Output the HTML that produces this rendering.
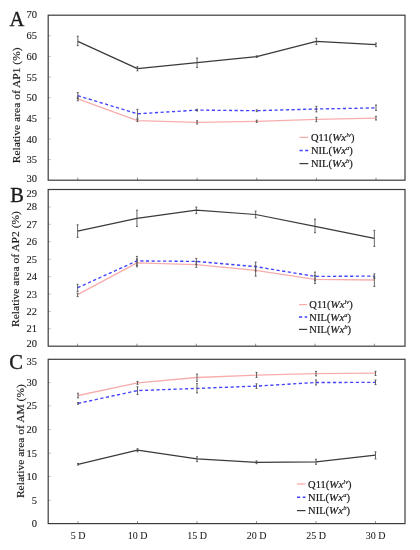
<!DOCTYPE html>
<html><head><meta charset="utf-8"><style>
html,body{margin:0;padding:0;background:#fff;}
body{width:420px;height:550px;overflow:hidden;}
svg{display:block;filter:blur(0.3px);}
text{font-family:"Liberation Serif", "Times New Roman", serif;fill:#1a1a1a;stroke:#1a1a1a;stroke-width:0.15px;}
.tl{stroke-width:0.1px;font-size:10.5px;text-anchor:end;dominant-baseline:central;}
.pl{stroke-width:0.35px;font-size:20.5px;}
.at{stroke-width:0.15px;font-size:10.5px;text-anchor:middle;}
.lg{stroke-width:0.2px;font-size:10.5px;}
.xl{stroke-width:0.05px;font-size:10px;text-anchor:middle;}
</style></head><body>
<svg width="420" height="550" viewBox="0 0 420 550">
<rect width="420" height="550" fill="#fff"/>
<line x1="48.2" y1="35.8" x2="50.7" y2="35.8" stroke="#aaaaaa" stroke-width="0.8"/>
<line x1="48.2" y1="56.4" x2="50.7" y2="56.4" stroke="#aaaaaa" stroke-width="0.8"/>
<line x1="48.2" y1="77.1" x2="50.7" y2="77.1" stroke="#aaaaaa" stroke-width="0.8"/>
<line x1="48.2" y1="97.7" x2="50.7" y2="97.7" stroke="#aaaaaa" stroke-width="0.8"/>
<line x1="48.2" y1="118.3" x2="50.7" y2="118.3" stroke="#aaaaaa" stroke-width="0.8"/>
<line x1="48.2" y1="139" x2="50.7" y2="139" stroke="#aaaaaa" stroke-width="0.8"/>
<line x1="48.2" y1="159.6" x2="50.7" y2="159.6" stroke="#aaaaaa" stroke-width="0.8"/>
<line x1="77.8" y1="180.2" x2="77.8" y2="177.7" stroke="#777" stroke-width="0.8"/>
<line x1="137.44" y1="180.2" x2="137.44" y2="177.7" stroke="#777" stroke-width="0.8"/>
<line x1="197.08" y1="180.2" x2="197.08" y2="177.7" stroke="#777" stroke-width="0.8"/>
<line x1="256.72" y1="180.2" x2="256.72" y2="177.7" stroke="#777" stroke-width="0.8"/>
<line x1="316.36" y1="180.2" x2="316.36" y2="177.7" stroke="#777" stroke-width="0.8"/>
<line x1="376" y1="180.2" x2="376" y2="177.7" stroke="#777" stroke-width="0.8"/>
<polyline points="77.8,98.9 137.44,120.6 197.08,122.3 256.72,121.3 316.36,119.3 376,118.2" fill="none" stroke="#f8adad" stroke-width="1.3" stroke-linejoin="round"/>
<line x1="77.8" y1="97" x2="77.8" y2="100.8" stroke="#4a4a4a" stroke-width="0.85"/>
<line x1="76.8" y1="97" x2="78.8" y2="97" stroke="#4a4a4a" stroke-width="0.85"/>
<line x1="76.8" y1="100.8" x2="78.8" y2="100.8" stroke="#4a4a4a" stroke-width="0.85"/>
<line x1="137.44" y1="119.6" x2="137.44" y2="121.6" stroke="#4a4a4a" stroke-width="0.85"/>
<line x1="136.44" y1="119.6" x2="138.44" y2="119.6" stroke="#4a4a4a" stroke-width="0.85"/>
<line x1="136.44" y1="121.6" x2="138.44" y2="121.6" stroke="#4a4a4a" stroke-width="0.85"/>
<line x1="197.08" y1="120.8" x2="197.08" y2="124" stroke="#4a4a4a" stroke-width="0.85"/>
<line x1="196.08" y1="120.8" x2="198.08" y2="120.8" stroke="#4a4a4a" stroke-width="0.85"/>
<line x1="196.08" y1="124" x2="198.08" y2="124" stroke="#4a4a4a" stroke-width="0.85"/>
<line x1="256.72" y1="120.2" x2="256.72" y2="122.4" stroke="#4a4a4a" stroke-width="0.85"/>
<line x1="255.72" y1="120.2" x2="257.72" y2="120.2" stroke="#4a4a4a" stroke-width="0.85"/>
<line x1="255.72" y1="122.4" x2="257.72" y2="122.4" stroke="#4a4a4a" stroke-width="0.85"/>
<line x1="316.36" y1="117.3" x2="316.36" y2="121.7" stroke="#4a4a4a" stroke-width="0.85"/>
<line x1="315.36" y1="117.3" x2="317.36" y2="117.3" stroke="#4a4a4a" stroke-width="0.85"/>
<line x1="315.36" y1="121.7" x2="317.36" y2="121.7" stroke="#4a4a4a" stroke-width="0.85"/>
<line x1="376" y1="116.3" x2="376" y2="120" stroke="#4a4a4a" stroke-width="0.85"/>
<line x1="375" y1="116.3" x2="377" y2="116.3" stroke="#4a4a4a" stroke-width="0.85"/>
<line x1="375" y1="120" x2="377" y2="120" stroke="#4a4a4a" stroke-width="0.85"/>
<polyline points="77.8,95.7 137.44,113.8 197.08,110.1 256.72,110.7 316.36,109 376,107.9" fill="none" stroke="#4242ff" stroke-width="1.35" stroke-dasharray="3.2 2.5" stroke-linejoin="round"/>
<line x1="77.8" y1="92.6" x2="77.8" y2="98.6" stroke="#4a4a4a" stroke-width="0.85"/>
<line x1="76.8" y1="92.6" x2="78.8" y2="92.6" stroke="#4a4a4a" stroke-width="0.85"/>
<line x1="76.8" y1="98.6" x2="78.8" y2="98.6" stroke="#4a4a4a" stroke-width="0.85"/>
<line x1="137.44" y1="109.3" x2="137.44" y2="118.3" stroke="#4a4a4a" stroke-width="0.85"/>
<line x1="136.44" y1="109.3" x2="138.44" y2="109.3" stroke="#4a4a4a" stroke-width="0.85"/>
<line x1="136.44" y1="118.3" x2="138.44" y2="118.3" stroke="#4a4a4a" stroke-width="0.85"/>
<line x1="197.08" y1="109.3" x2="197.08" y2="111" stroke="#4a4a4a" stroke-width="0.85"/>
<line x1="196.08" y1="109.3" x2="198.08" y2="109.3" stroke="#4a4a4a" stroke-width="0.85"/>
<line x1="196.08" y1="111" x2="198.08" y2="111" stroke="#4a4a4a" stroke-width="0.85"/>
<line x1="256.72" y1="109.8" x2="256.72" y2="111.6" stroke="#4a4a4a" stroke-width="0.85"/>
<line x1="255.72" y1="109.8" x2="257.72" y2="109.8" stroke="#4a4a4a" stroke-width="0.85"/>
<line x1="255.72" y1="111.6" x2="257.72" y2="111.6" stroke="#4a4a4a" stroke-width="0.85"/>
<line x1="316.36" y1="106.3" x2="316.36" y2="111.9" stroke="#4a4a4a" stroke-width="0.85"/>
<line x1="315.36" y1="106.3" x2="317.36" y2="106.3" stroke="#4a4a4a" stroke-width="0.85"/>
<line x1="315.36" y1="111.9" x2="317.36" y2="111.9" stroke="#4a4a4a" stroke-width="0.85"/>
<line x1="376" y1="105" x2="376" y2="110.4" stroke="#4a4a4a" stroke-width="0.85"/>
<line x1="375" y1="105" x2="377" y2="105" stroke="#4a4a4a" stroke-width="0.85"/>
<line x1="375" y1="110.4" x2="377" y2="110.4" stroke="#4a4a4a" stroke-width="0.85"/>
<polyline points="77.8,41.4 137.44,68.6 197.08,62.6 256.72,56.6 316.36,41.3 376,44.7" fill="none" stroke="#3a3a3a" stroke-width="1.2" stroke-linejoin="round"/>
<line x1="77.8" y1="36.2" x2="77.8" y2="45.7" stroke="#4a4a4a" stroke-width="0.85"/>
<line x1="76.8" y1="36.2" x2="78.8" y2="36.2" stroke="#4a4a4a" stroke-width="0.85"/>
<line x1="76.8" y1="45.7" x2="78.8" y2="45.7" stroke="#4a4a4a" stroke-width="0.85"/>
<line x1="137.44" y1="66.6" x2="137.44" y2="70.8" stroke="#4a4a4a" stroke-width="0.85"/>
<line x1="136.44" y1="66.6" x2="138.44" y2="66.6" stroke="#4a4a4a" stroke-width="0.85"/>
<line x1="136.44" y1="70.8" x2="138.44" y2="70.8" stroke="#4a4a4a" stroke-width="0.85"/>
<line x1="197.08" y1="58" x2="197.08" y2="67.6" stroke="#4a4a4a" stroke-width="0.85"/>
<line x1="196.08" y1="58" x2="198.08" y2="58" stroke="#4a4a4a" stroke-width="0.85"/>
<line x1="196.08" y1="67.6" x2="198.08" y2="67.6" stroke="#4a4a4a" stroke-width="0.85"/>
<line x1="256.72" y1="55.8" x2="256.72" y2="57.4" stroke="#4a4a4a" stroke-width="0.85"/>
<line x1="255.72" y1="55.8" x2="257.72" y2="55.8" stroke="#4a4a4a" stroke-width="0.85"/>
<line x1="255.72" y1="57.4" x2="257.72" y2="57.4" stroke="#4a4a4a" stroke-width="0.85"/>
<line x1="316.36" y1="38.2" x2="316.36" y2="44.6" stroke="#4a4a4a" stroke-width="0.85"/>
<line x1="315.36" y1="38.2" x2="317.36" y2="38.2" stroke="#4a4a4a" stroke-width="0.85"/>
<line x1="315.36" y1="44.6" x2="317.36" y2="44.6" stroke="#4a4a4a" stroke-width="0.85"/>
<line x1="376" y1="43" x2="376" y2="46.6" stroke="#4a4a4a" stroke-width="0.85"/>
<line x1="375" y1="43" x2="377" y2="43" stroke="#4a4a4a" stroke-width="0.85"/>
<line x1="375" y1="46.6" x2="377" y2="46.6" stroke="#4a4a4a" stroke-width="0.85"/>
<rect x="48.2" y="15.2" width="356.8" height="165" fill="none" stroke="#3c3c3c" stroke-width="1.2"/>
<text x="37" y="14.6" class="tl">70</text>
<text x="37" y="35.8" class="tl">65</text>
<text x="37" y="56.4" class="tl">60</text>
<text x="37" y="77.1" class="tl">55</text>
<text x="37" y="97.7" class="tl">50</text>
<text x="37" y="118.3" class="tl">45</text>
<text x="37" y="139" class="tl">40</text>
<text x="37" y="159.6" class="tl">35</text>
<text x="37" y="178" class="tl">30</text>
<text x="9.6" y="25.9" class="pl">A</text>
<text transform="translate(19.8,105.3) rotate(-90) scale(1.1,1)" class="at">Relative area of AP1 (%)</text>
<line x1="299.5" y1="137.4" x2="308.3" y2="137.4" stroke="#f8adad" stroke-width="1.3"/>
<line x1="299.5" y1="150.6" x2="308.3" y2="150.6" stroke="#4242ff" stroke-width="1.5" stroke-dasharray="3.2 2.5"/>
<line x1="299.5" y1="163.6" x2="308.3" y2="163.6" stroke="#3a3a3a" stroke-width="1.2"/>
<text x="311" y="140.9" class="lg">Q11(<tspan font-style="italic" font-size="11">Wx</tspan><tspan font-style="italic" font-size="6.5" dy="-4">lv</tspan><tspan dy="4">)</tspan></text>
<text x="311" y="154.1" class="lg">NIL(<tspan font-style="italic" font-size="11">Wx</tspan><tspan font-style="italic" font-size="6.5" dy="-4">a</tspan><tspan dy="4">)</tspan></text>
<text x="311" y="167.1" class="lg">NIL(<tspan font-style="italic" font-size="11">Wx</tspan><tspan font-style="italic" font-size="6.5" dy="-4">b</tspan><tspan dy="4">)</tspan></text>
<line x1="48.2" y1="206.9" x2="50.7" y2="206.9" stroke="#aaaaaa" stroke-width="0.8"/>
<line x1="48.2" y1="224.3" x2="50.7" y2="224.3" stroke="#aaaaaa" stroke-width="0.8"/>
<line x1="48.2" y1="241.7" x2="50.7" y2="241.7" stroke="#aaaaaa" stroke-width="0.8"/>
<line x1="48.2" y1="259.2" x2="50.7" y2="259.2" stroke="#aaaaaa" stroke-width="0.8"/>
<line x1="48.2" y1="276.6" x2="50.7" y2="276.6" stroke="#aaaaaa" stroke-width="0.8"/>
<line x1="48.2" y1="294" x2="50.7" y2="294" stroke="#aaaaaa" stroke-width="0.8"/>
<line x1="48.2" y1="311.4" x2="50.7" y2="311.4" stroke="#aaaaaa" stroke-width="0.8"/>
<line x1="48.2" y1="328.8" x2="50.7" y2="328.8" stroke="#aaaaaa" stroke-width="0.8"/>
<line x1="77.6" y1="346.2" x2="77.6" y2="343.7" stroke="#777" stroke-width="0.8"/>
<line x1="136.95" y1="346.2" x2="136.95" y2="343.7" stroke="#777" stroke-width="0.8"/>
<line x1="196.3" y1="346.2" x2="196.3" y2="343.7" stroke="#777" stroke-width="0.8"/>
<line x1="255.65" y1="346.2" x2="255.65" y2="343.7" stroke="#777" stroke-width="0.8"/>
<line x1="315" y1="346.2" x2="315" y2="343.7" stroke="#777" stroke-width="0.8"/>
<line x1="374.35" y1="346.2" x2="374.35" y2="343.7" stroke="#777" stroke-width="0.8"/>
<polyline points="77.6,294.6 136.95,262.9 196.3,264.6 255.65,270.4 315,279.3 374.35,280" fill="none" stroke="#f8adad" stroke-width="1.3" stroke-linejoin="round"/>
<line x1="77.6" y1="293.2" x2="77.6" y2="296.6" stroke="#4a4a4a" stroke-width="0.85"/>
<line x1="76.6" y1="293.2" x2="78.6" y2="293.2" stroke="#4a4a4a" stroke-width="0.85"/>
<line x1="76.6" y1="296.6" x2="78.6" y2="296.6" stroke="#4a4a4a" stroke-width="0.85"/>
<line x1="136.95" y1="259" x2="136.95" y2="266.8" stroke="#4a4a4a" stroke-width="0.85"/>
<line x1="135.95" y1="259" x2="137.95" y2="259" stroke="#4a4a4a" stroke-width="0.85"/>
<line x1="135.95" y1="266.8" x2="137.95" y2="266.8" stroke="#4a4a4a" stroke-width="0.85"/>
<line x1="196.3" y1="261.5" x2="196.3" y2="267.3" stroke="#4a4a4a" stroke-width="0.85"/>
<line x1="195.3" y1="261.5" x2="197.3" y2="261.5" stroke="#4a4a4a" stroke-width="0.85"/>
<line x1="195.3" y1="267.3" x2="197.3" y2="267.3" stroke="#4a4a4a" stroke-width="0.85"/>
<line x1="255.65" y1="266" x2="255.65" y2="276.1" stroke="#4a4a4a" stroke-width="0.85"/>
<line x1="254.65" y1="266" x2="256.65" y2="266" stroke="#4a4a4a" stroke-width="0.85"/>
<line x1="254.65" y1="276.1" x2="256.65" y2="276.1" stroke="#4a4a4a" stroke-width="0.85"/>
<line x1="315" y1="275.5" x2="315" y2="283.6" stroke="#4a4a4a" stroke-width="0.85"/>
<line x1="314" y1="275.5" x2="316" y2="275.5" stroke="#4a4a4a" stroke-width="0.85"/>
<line x1="314" y1="283.6" x2="316" y2="283.6" stroke="#4a4a4a" stroke-width="0.85"/>
<line x1="374.35" y1="277" x2="374.35" y2="286.4" stroke="#4a4a4a" stroke-width="0.85"/>
<line x1="373.35" y1="277" x2="375.35" y2="277" stroke="#4a4a4a" stroke-width="0.85"/>
<line x1="373.35" y1="286.4" x2="375.35" y2="286.4" stroke="#4a4a4a" stroke-width="0.85"/>
<polyline points="77.6,287.7 136.95,260.9 196.3,261.4 255.65,266.6 315,276.4 374.35,276.1" fill="none" stroke="#4242ff" stroke-width="1.35" stroke-dasharray="3.2 2.5" stroke-linejoin="round"/>
<line x1="77.6" y1="284.3" x2="77.6" y2="291.4" stroke="#4a4a4a" stroke-width="0.85"/>
<line x1="76.6" y1="284.3" x2="78.6" y2="284.3" stroke="#4a4a4a" stroke-width="0.85"/>
<line x1="76.6" y1="291.4" x2="78.6" y2="291.4" stroke="#4a4a4a" stroke-width="0.85"/>
<line x1="136.95" y1="256.4" x2="136.95" y2="265.4" stroke="#4a4a4a" stroke-width="0.85"/>
<line x1="135.95" y1="256.4" x2="137.95" y2="256.4" stroke="#4a4a4a" stroke-width="0.85"/>
<line x1="135.95" y1="265.4" x2="137.95" y2="265.4" stroke="#4a4a4a" stroke-width="0.85"/>
<line x1="196.3" y1="258.4" x2="196.3" y2="264.4" stroke="#4a4a4a" stroke-width="0.85"/>
<line x1="195.3" y1="258.4" x2="197.3" y2="258.4" stroke="#4a4a4a" stroke-width="0.85"/>
<line x1="195.3" y1="264.4" x2="197.3" y2="264.4" stroke="#4a4a4a" stroke-width="0.85"/>
<line x1="255.65" y1="262.1" x2="255.65" y2="271" stroke="#4a4a4a" stroke-width="0.85"/>
<line x1="254.65" y1="262.1" x2="256.65" y2="262.1" stroke="#4a4a4a" stroke-width="0.85"/>
<line x1="254.65" y1="271" x2="256.65" y2="271" stroke="#4a4a4a" stroke-width="0.85"/>
<line x1="315" y1="272.1" x2="315" y2="280.7" stroke="#4a4a4a" stroke-width="0.85"/>
<line x1="314" y1="272.1" x2="316" y2="272.1" stroke="#4a4a4a" stroke-width="0.85"/>
<line x1="314" y1="280.7" x2="316" y2="280.7" stroke="#4a4a4a" stroke-width="0.85"/>
<line x1="374.35" y1="273.9" x2="374.35" y2="278.3" stroke="#4a4a4a" stroke-width="0.85"/>
<line x1="373.35" y1="273.9" x2="375.35" y2="273.9" stroke="#4a4a4a" stroke-width="0.85"/>
<line x1="373.35" y1="278.3" x2="375.35" y2="278.3" stroke="#4a4a4a" stroke-width="0.85"/>
<polyline points="77.6,231.1 136.95,218.4 196.3,210.1 255.65,214.5 315,226.3 374.35,238.4" fill="none" stroke="#3a3a3a" stroke-width="1.2" stroke-linejoin="round"/>
<line x1="77.6" y1="224.8" x2="77.6" y2="237.4" stroke="#4a4a4a" stroke-width="0.85"/>
<line x1="76.6" y1="224.8" x2="78.6" y2="224.8" stroke="#4a4a4a" stroke-width="0.85"/>
<line x1="76.6" y1="237.4" x2="78.6" y2="237.4" stroke="#4a4a4a" stroke-width="0.85"/>
<line x1="136.95" y1="210.2" x2="136.95" y2="226.4" stroke="#4a4a4a" stroke-width="0.85"/>
<line x1="135.95" y1="210.2" x2="137.95" y2="210.2" stroke="#4a4a4a" stroke-width="0.85"/>
<line x1="135.95" y1="226.4" x2="137.95" y2="226.4" stroke="#4a4a4a" stroke-width="0.85"/>
<line x1="196.3" y1="207.1" x2="196.3" y2="213.7" stroke="#4a4a4a" stroke-width="0.85"/>
<line x1="195.3" y1="207.1" x2="197.3" y2="207.1" stroke="#4a4a4a" stroke-width="0.85"/>
<line x1="195.3" y1="213.7" x2="197.3" y2="213.7" stroke="#4a4a4a" stroke-width="0.85"/>
<line x1="255.65" y1="211.1" x2="255.65" y2="217.9" stroke="#4a4a4a" stroke-width="0.85"/>
<line x1="254.65" y1="211.1" x2="256.65" y2="211.1" stroke="#4a4a4a" stroke-width="0.85"/>
<line x1="254.65" y1="217.9" x2="256.65" y2="217.9" stroke="#4a4a4a" stroke-width="0.85"/>
<line x1="315" y1="219.1" x2="315" y2="232.7" stroke="#4a4a4a" stroke-width="0.85"/>
<line x1="314" y1="219.1" x2="316" y2="219.1" stroke="#4a4a4a" stroke-width="0.85"/>
<line x1="314" y1="232.7" x2="316" y2="232.7" stroke="#4a4a4a" stroke-width="0.85"/>
<line x1="374.35" y1="230.4" x2="374.35" y2="246.4" stroke="#4a4a4a" stroke-width="0.85"/>
<line x1="373.35" y1="230.4" x2="375.35" y2="230.4" stroke="#4a4a4a" stroke-width="0.85"/>
<line x1="373.35" y1="246.4" x2="375.35" y2="246.4" stroke="#4a4a4a" stroke-width="0.85"/>
<rect x="48.2" y="189.5" width="356.8" height="156.7" fill="none" stroke="#3c3c3c" stroke-width="1.2"/>
<text x="37" y="193.2" class="tl">29</text>
<text x="37" y="206.9" class="tl">28</text>
<text x="37" y="224.3" class="tl">27</text>
<text x="37" y="241.7" class="tl">26</text>
<text x="37" y="259.2" class="tl">25</text>
<text x="37" y="276.6" class="tl">24</text>
<text x="37" y="294" class="tl">23</text>
<text x="37" y="311.4" class="tl">22</text>
<text x="37" y="328.8" class="tl">21</text>
<text x="37" y="343.5" class="tl">20</text>
<text x="10.3" y="201.7" class="pl">B</text>
<text transform="translate(18.9,269) rotate(-90) scale(1.1,1)" class="at">Relative area of AP2 (%)</text>
<line x1="299" y1="304.6" x2="307.2" y2="304.6" stroke="#f8adad" stroke-width="1.3"/>
<line x1="299" y1="317" x2="307.2" y2="317" stroke="#4242ff" stroke-width="1.5" stroke-dasharray="3.2 2.5"/>
<line x1="299" y1="329.4" x2="307.2" y2="329.4" stroke="#3a3a3a" stroke-width="1.2"/>
<text x="309.3" y="308.1" class="lg">Q11(<tspan font-style="italic" font-size="11">Wx</tspan><tspan font-style="italic" font-size="6.5" dy="-4">lv</tspan><tspan dy="4">)</tspan></text>
<text x="309.3" y="320.5" class="lg">NIL(<tspan font-style="italic" font-size="11">Wx</tspan><tspan font-style="italic" font-size="6.5" dy="-4">a</tspan><tspan dy="4">)</tspan></text>
<text x="309.3" y="332.9" class="lg">NIL(<tspan font-style="italic" font-size="11">Wx</tspan><tspan font-style="italic" font-size="6.5" dy="-4">b</tspan><tspan dy="4">)</tspan></text>
<line x1="48.2" y1="382.6" x2="50.7" y2="382.6" stroke="#aaaaaa" stroke-width="0.8"/>
<line x1="48.2" y1="405.9" x2="50.7" y2="405.9" stroke="#aaaaaa" stroke-width="0.8"/>
<line x1="48.2" y1="429.6" x2="50.7" y2="429.6" stroke="#aaaaaa" stroke-width="0.8"/>
<line x1="48.2" y1="453.2" x2="50.7" y2="453.2" stroke="#aaaaaa" stroke-width="0.8"/>
<line x1="48.2" y1="476.5" x2="50.7" y2="476.5" stroke="#aaaaaa" stroke-width="0.8"/>
<line x1="48.2" y1="500.3" x2="50.7" y2="500.3" stroke="#aaaaaa" stroke-width="0.8"/>
<line x1="78" y1="523.6" x2="78" y2="521.1" stroke="#777" stroke-width="0.8"/>
<line x1="137.5" y1="523.6" x2="137.5" y2="521.1" stroke="#777" stroke-width="0.8"/>
<line x1="197" y1="523.6" x2="197" y2="521.1" stroke="#777" stroke-width="0.8"/>
<line x1="256.5" y1="523.6" x2="256.5" y2="521.1" stroke="#777" stroke-width="0.8"/>
<line x1="316" y1="523.6" x2="316" y2="521.1" stroke="#777" stroke-width="0.8"/>
<line x1="375.5" y1="523.6" x2="375.5" y2="521.1" stroke="#777" stroke-width="0.8"/>
<polyline points="78,395.5 137.5,382.9 197,377.5 256.5,375.2 316,373.7 375.5,373.2" fill="none" stroke="#f8adad" stroke-width="1.3" stroke-linejoin="round"/>
<line x1="78" y1="393.2" x2="78" y2="397.9" stroke="#4a4a4a" stroke-width="0.85"/>
<line x1="77" y1="393.2" x2="79" y2="393.2" stroke="#4a4a4a" stroke-width="0.85"/>
<line x1="77" y1="397.9" x2="79" y2="397.9" stroke="#4a4a4a" stroke-width="0.85"/>
<line x1="137.5" y1="381.4" x2="137.5" y2="384.3" stroke="#4a4a4a" stroke-width="0.85"/>
<line x1="136.5" y1="381.4" x2="138.5" y2="381.4" stroke="#4a4a4a" stroke-width="0.85"/>
<line x1="136.5" y1="384.3" x2="138.5" y2="384.3" stroke="#4a4a4a" stroke-width="0.85"/>
<line x1="197" y1="374.1" x2="197" y2="381.3" stroke="#4a4a4a" stroke-width="0.85"/>
<line x1="196" y1="374.1" x2="198" y2="374.1" stroke="#4a4a4a" stroke-width="0.85"/>
<line x1="196" y1="381.3" x2="198" y2="381.3" stroke="#4a4a4a" stroke-width="0.85"/>
<line x1="256.5" y1="372.4" x2="256.5" y2="377.4" stroke="#4a4a4a" stroke-width="0.85"/>
<line x1="255.5" y1="372.4" x2="257.5" y2="372.4" stroke="#4a4a4a" stroke-width="0.85"/>
<line x1="255.5" y1="377.4" x2="257.5" y2="377.4" stroke="#4a4a4a" stroke-width="0.85"/>
<line x1="316" y1="371.4" x2="316" y2="375.9" stroke="#4a4a4a" stroke-width="0.85"/>
<line x1="315" y1="371.4" x2="317" y2="371.4" stroke="#4a4a4a" stroke-width="0.85"/>
<line x1="315" y1="375.9" x2="317" y2="375.9" stroke="#4a4a4a" stroke-width="0.85"/>
<line x1="375.5" y1="371.3" x2="375.5" y2="375.4" stroke="#4a4a4a" stroke-width="0.85"/>
<line x1="374.5" y1="371.3" x2="376.5" y2="371.3" stroke="#4a4a4a" stroke-width="0.85"/>
<line x1="374.5" y1="375.4" x2="376.5" y2="375.4" stroke="#4a4a4a" stroke-width="0.85"/>
<polyline points="78,403.4 137.5,390.6 197,388.4 256.5,386.1 316,382.5 375.5,382.4" fill="none" stroke="#4242ff" stroke-width="1.35" stroke-dasharray="3.2 2.5" stroke-linejoin="round"/>
<line x1="78" y1="402.5" x2="78" y2="404.3" stroke="#4a4a4a" stroke-width="0.85"/>
<line x1="77" y1="402.5" x2="79" y2="402.5" stroke="#4a4a4a" stroke-width="0.85"/>
<line x1="77" y1="404.3" x2="79" y2="404.3" stroke="#4a4a4a" stroke-width="0.85"/>
<line x1="137.5" y1="386.8" x2="137.5" y2="394.6" stroke="#4a4a4a" stroke-width="0.85"/>
<line x1="136.5" y1="386.8" x2="138.5" y2="386.8" stroke="#4a4a4a" stroke-width="0.85"/>
<line x1="136.5" y1="394.6" x2="138.5" y2="394.6" stroke="#4a4a4a" stroke-width="0.85"/>
<line x1="197" y1="383.6" x2="197" y2="392.9" stroke="#4a4a4a" stroke-width="0.85"/>
<line x1="196" y1="383.6" x2="198" y2="383.6" stroke="#4a4a4a" stroke-width="0.85"/>
<line x1="196" y1="392.9" x2="198" y2="392.9" stroke="#4a4a4a" stroke-width="0.85"/>
<line x1="256.5" y1="383.8" x2="256.5" y2="388.4" stroke="#4a4a4a" stroke-width="0.85"/>
<line x1="255.5" y1="383.8" x2="257.5" y2="383.8" stroke="#4a4a4a" stroke-width="0.85"/>
<line x1="255.5" y1="388.4" x2="257.5" y2="388.4" stroke="#4a4a4a" stroke-width="0.85"/>
<line x1="316" y1="379.9" x2="316" y2="385" stroke="#4a4a4a" stroke-width="0.85"/>
<line x1="315" y1="379.9" x2="317" y2="379.9" stroke="#4a4a4a" stroke-width="0.85"/>
<line x1="315" y1="385" x2="317" y2="385" stroke="#4a4a4a" stroke-width="0.85"/>
<line x1="375.5" y1="380" x2="375.5" y2="384.6" stroke="#4a4a4a" stroke-width="0.85"/>
<line x1="374.5" y1="380" x2="376.5" y2="380" stroke="#4a4a4a" stroke-width="0.85"/>
<line x1="374.5" y1="384.6" x2="376.5" y2="384.6" stroke="#4a4a4a" stroke-width="0.85"/>
<polyline points="78,464.3 137.5,450.1 197,458.9 256.5,462.3 316,461.8 375.5,455.2" fill="none" stroke="#3a3a3a" stroke-width="1.2" stroke-linejoin="round"/>
<line x1="78" y1="463.5" x2="78" y2="465.1" stroke="#4a4a4a" stroke-width="0.85"/>
<line x1="77" y1="463.5" x2="79" y2="463.5" stroke="#4a4a4a" stroke-width="0.85"/>
<line x1="77" y1="465.1" x2="79" y2="465.1" stroke="#4a4a4a" stroke-width="0.85"/>
<line x1="137.5" y1="448.7" x2="137.5" y2="451.8" stroke="#4a4a4a" stroke-width="0.85"/>
<line x1="136.5" y1="448.7" x2="138.5" y2="448.7" stroke="#4a4a4a" stroke-width="0.85"/>
<line x1="136.5" y1="451.8" x2="138.5" y2="451.8" stroke="#4a4a4a" stroke-width="0.85"/>
<line x1="197" y1="456.8" x2="197" y2="461.6" stroke="#4a4a4a" stroke-width="0.85"/>
<line x1="196" y1="456.8" x2="198" y2="456.8" stroke="#4a4a4a" stroke-width="0.85"/>
<line x1="196" y1="461.6" x2="198" y2="461.6" stroke="#4a4a4a" stroke-width="0.85"/>
<line x1="256.5" y1="460.9" x2="256.5" y2="463.7" stroke="#4a4a4a" stroke-width="0.85"/>
<line x1="255.5" y1="460.9" x2="257.5" y2="460.9" stroke="#4a4a4a" stroke-width="0.85"/>
<line x1="255.5" y1="463.7" x2="257.5" y2="463.7" stroke="#4a4a4a" stroke-width="0.85"/>
<line x1="316" y1="459.3" x2="316" y2="464.3" stroke="#4a4a4a" stroke-width="0.85"/>
<line x1="315" y1="459.3" x2="317" y2="459.3" stroke="#4a4a4a" stroke-width="0.85"/>
<line x1="315" y1="464.3" x2="317" y2="464.3" stroke="#4a4a4a" stroke-width="0.85"/>
<line x1="375.5" y1="451.8" x2="375.5" y2="458.9" stroke="#4a4a4a" stroke-width="0.85"/>
<line x1="374.5" y1="451.8" x2="376.5" y2="451.8" stroke="#4a4a4a" stroke-width="0.85"/>
<line x1="374.5" y1="458.9" x2="376.5" y2="458.9" stroke="#4a4a4a" stroke-width="0.85"/>
<rect x="48.2" y="359.3" width="356.8" height="164.3" fill="none" stroke="#3c3c3c" stroke-width="1.2"/>
<text x="37" y="361.8" class="tl">35</text>
<text x="37" y="382.6" class="tl">30</text>
<text x="37" y="405.9" class="tl">25</text>
<text x="37" y="429.6" class="tl">20</text>
<text x="37" y="453.2" class="tl">15</text>
<text x="37" y="476.5" class="tl">10</text>
<text x="37" y="500.3" class="tl">5</text>
<text x="37" y="523.6" class="tl">0</text>
<text x="9.3" y="369" class="pl">C</text>
<text transform="translate(24,441.1) rotate(-90) scale(1.1,1)" class="at">Relative area of AM (%)</text>
<line x1="297" y1="484" x2="305.5" y2="484" stroke="#f8adad" stroke-width="1.3"/>
<line x1="297" y1="497.3" x2="305.5" y2="497.3" stroke="#4242ff" stroke-width="1.5" stroke-dasharray="3.2 2.5"/>
<line x1="297" y1="510.6" x2="305.5" y2="510.6" stroke="#3a3a3a" stroke-width="1.2"/>
<text x="308.1" y="487.5" class="lg">Q11(<tspan font-style="italic" font-size="11">Wx</tspan><tspan font-style="italic" font-size="6.5" dy="-4">lv</tspan><tspan dy="4">)</tspan></text>
<text x="308.1" y="500.8" class="lg">NIL(<tspan font-style="italic" font-size="11">Wx</tspan><tspan font-style="italic" font-size="6.5" dy="-4">a</tspan><tspan dy="4">)</tspan></text>
<text x="308.1" y="514.1" class="lg">NIL(<tspan font-style="italic" font-size="11">Wx</tspan><tspan font-style="italic" font-size="6.5" dy="-4">b</tspan><tspan dy="4">)</tspan></text>
<text x="78" y="539.3" class="xl">5 D</text>
<text x="137.5" y="539.3" class="xl">10 D</text>
<text x="197" y="539.3" class="xl">15 D</text>
<text x="256.5" y="539.3" class="xl">20 D</text>
<text x="316" y="539.3" class="xl">25 D</text>
<text x="375.5" y="539.3" class="xl">30 D</text>
</svg>
</body></html>
